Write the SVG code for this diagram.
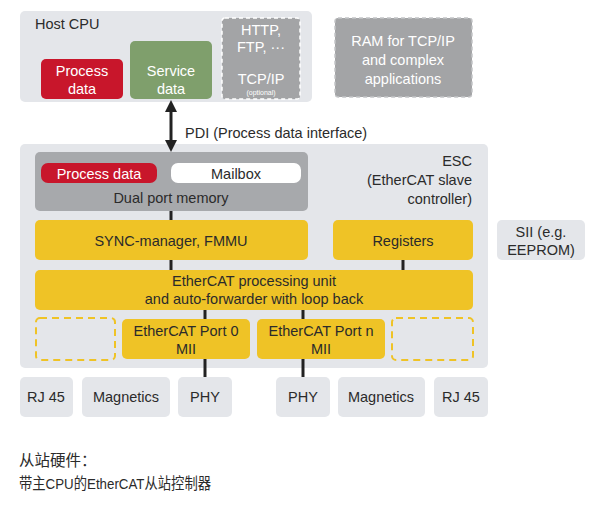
<svg xmlns="http://www.w3.org/2000/svg" width="595" height="518" viewBox="0 0 595 518">
<style>
text{font-family:"Liberation Sans",Arial,sans-serif;font-size:14.5px;fill:#2b2b2b}
.c{text-anchor:middle}
.w{fill:#ffffff}
.lg{fill:#e4e6ea}
.y{fill:#efc326}
.yd{fill:none;stroke:#efc326;stroke-width:2;stroke-dasharray:7 5}
.ln{stroke:#222;stroke-width:3;fill:none}
.cap{font-family:"Liberation Sans","Noto Sans CJK SC",sans-serif;font-size:15.5px}
</style>
<defs>
<marker id="ah" viewBox="0 0 10 10" refX="5" refY="5" markerWidth="4" markerHeight="4" orient="auto-start-reverse"><path d="M0,0L10,5L0,10z" fill="#222"/></marker>
</defs>
<rect width="595" height="518" fill="#fff"/>
<g id="host-cpu">
<rect class="lg" x="20" y="11" width="292" height="91" rx="5"/>
<text x="35" y="29">Host CPU</text>
</g>
<g id="host-process-data">
<rect x="41" y="59" width="82" height="40" rx="5" fill="#c8162b"/>
<text class="c w" x="82" y="76">Process</text>
<text class="c w" x="82" y="94">data</text>
</g>
<g id="service-data">
<rect x="130" y="41" width="82" height="58" rx="5" fill="#7f9f6c"/>
<text class="c w" x="171" y="76">Service</text>
<text class="c w" x="171" y="94">data</text>
</g>
<g id="tcpip">
<rect x="222" y="18" width="78" height="81" rx="3" fill="#a3a4a6" stroke="#ffffff" stroke-width="1.5" stroke-dasharray="4 3"/>
<text class="c w" x="261" y="35">HTTP,</text>
<text class="c w" x="261" y="52">FTP, ···</text>
<text class="c w" x="261" y="84">TCP/IP</text>
<text class="c w" x="261" y="95" style="font-size:7px">(optional)</text>
</g>
<g id="ram">
<rect x="335" y="18" width="137" height="79" rx="3" fill="#a3a4a6" stroke="#c4c5c7" stroke-width="1.5" stroke-dasharray="4 3"/>
<text class="c w" x="403" y="46">RAM for TCP/IP</text>
<text class="c w" x="403" y="65">and complex</text>
<text class="c w" x="403" y="84">applications</text>
</g>
<g id="esc">
<rect class="lg" x="20" y="144" width="468" height="224" rx="5"/>
<text x="472" y="166" style="text-anchor:end">ESC</text>
<text x="472" y="185" style="text-anchor:end">(EtherCAT slave</text>
<text x="472" y="204" style="text-anchor:end">controller)</text>
</g>
<g id="dual-port-memory">
<rect x="35" y="152" width="273" height="59" rx="5" fill="#a7a9ac"/>
<text class="c" x="171" y="203">Dual port memory</text>
</g>
<g id="esc-process-data">
<rect x="41" y="163" width="116" height="20" rx="7" fill="#c8162b"/>
<text class="c w" x="99" y="179">Process data</text>
</g>
<g id="mailbox">
<rect x="171" y="163" width="130" height="20" rx="7" fill="#ffffff"/>
<text class="c" x="236" y="179">Mailbox</text>
</g>
<g id="sync-manager">
<rect class="y" x="35" y="220" width="273" height="40" rx="5"/>
<text class="c" x="171" y="246">SYNC-manager, FMMU</text>
</g>
<g id="registers">
<rect class="y" x="333" y="220" width="140" height="40" rx="5"/>
<text class="c" x="403" y="246">Registers</text>
</g>
<g id="sii">
<rect class="lg" x="497" y="220" width="88" height="40" rx="5"/>
<text class="c" x="541" y="237">SII (e.g.</text>
<text class="c" x="541" y="255">EEPROM)</text>
</g>
<g id="processing-unit">
<rect class="y" x="35" y="270" width="438" height="40" rx="5"/>
<text class="c" x="254" y="286">EtherCAT processing unit</text>
<text class="c" x="254" y="304">and auto-forwarder with loop back</text>
</g>
<g id="spare-left"><rect class="yd" x="36" y="318" width="79" height="42" rx="4"/></g>
<g id="port0">
<rect class="y" x="122" y="319" width="128" height="40" rx="5"/>
<text class="c" x="186" y="336">EtherCAT Port 0</text>
<text class="c" x="186" y="354">MII</text>
</g>
<g id="portn">
<rect class="y" x="257" y="319" width="128" height="40" rx="5"/>
<text class="c" x="321" y="336">EtherCAT Port n</text>
<text class="c" x="321" y="354">MII</text>
</g>
<g id="spare-right"><rect class="yd" x="392" y="318" width="81" height="42" rx="4"/></g>
<g id="rj45-left"><rect class="lg" x="20" y="377" width="53" height="40" rx="5"/><text class="c" x="46" y="402">RJ 45</text></g>
<g id="magnetics-left"><rect class="lg" x="82" y="377" width="88" height="40" rx="5"/><text class="c" x="126" y="402">Magnetics</text></g>
<g id="phy-left"><rect class="lg" x="178" y="377" width="54" height="40" rx="5"/><text class="c" x="205" y="402">PHY</text></g>
<g id="phy-right"><rect class="lg" x="276" y="377" width="54" height="40" rx="5"/><text class="c" x="303" y="402">PHY</text></g>
<g id="magnetics-right"><rect class="lg" x="338" y="377" width="87" height="40" rx="5"/><text class="c" x="381" y="402">Magnetics</text></g>
<g id="rj45-right"><rect class="lg" x="434" y="377" width="54" height="40" rx="5"/><text class="c" x="461" y="402">RJ 45</text></g>
<g id="connectors">
<line class="ln" x1="171" y1="106" x2="171" y2="146" marker-start="url(#ah)" marker-end="url(#ah)"/>
<line class="ln" x1="171" y1="211" x2="171" y2="220"/>
<line class="ln" x1="171" y1="260" x2="171" y2="270"/>
<line class="ln" x1="403" y1="260" x2="403" y2="270"/>
<line class="ln" x1="205" y1="310" x2="205" y2="319"/>
<line class="ln" x1="205" y1="359" x2="205" y2="377"/>
<line class="ln" x1="303" y1="310" x2="303" y2="319"/>
<line class="ln" x1="303" y1="359" x2="303" y2="377"/>
</g>
<text x="185" y="138">PDI (Process data interface)</text>
<g id="caption">
<text class="cap" x="19" y="466">从站硬件：</text>
<text class="cap" x="19" y="489" textLength="192" lengthAdjust="spacingAndGlyphs">带主CPU的EtherCAT从站控制器</text>
</g>
</svg>
